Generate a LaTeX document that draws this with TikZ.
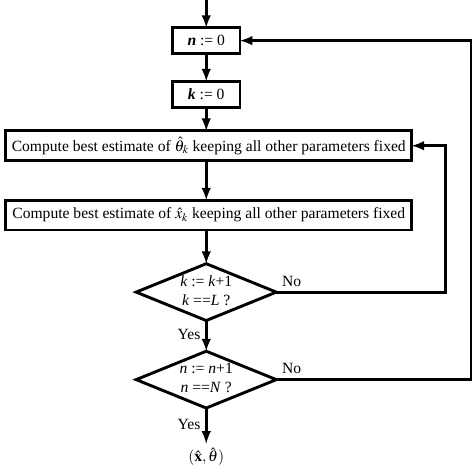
\documentclass[tikz,border=0pt]{standalone}
\usepackage{amsmath}
\usepackage{mathptmx}
\usepackage{fontspec}
\setmainfont{Liberation Serif}
\usetikzlibrary{matrix,shapes.geometric}
\newcommand{\twolines}[2]{\begin{tabular}{@{}c@{}}#1\\#2\end{tabular}}

\begin{document}
\begin{tikzpicture}[line width=2.2pt,every node/.style={font=\fontsize{11.8}{14.25}\selectfont}]
		\matrix [matrix of nodes,row sep=0pt,cells= {nodes= {rectangle,draw,outer sep=0pt,inner sep=0pt,minimum width=51pt,minimum height=19.5pt}}, row 3/.style= {nodes= {xshift=1.9pt,minimum width=307pt,minimum height=22.5pt}}, row 4/.style= {nodes= {xshift=1.9pt,minimum width=307pt,minimum height=22.5pt}}, row 5/.style= {nodes= {diamond,aspect=2.47,inner sep=-1.5pt,minimum width=106pt,minimum height=43pt}}, row 6/.style= {nodes= {diamond,aspect=2.47,inner sep=-1.5pt,minimum width=106pt,minimum height=43pt}}, row 7/.style= {nodes= {draw=none,minimum width=0pt,minimum height=0pt,inner sep=3pt}}] (m) {
			\textbf{\textit{n}} := 0\\[18.8pt]
			\textbf{\textit{k}} := 0\\[15.8pt]
			Compute best estimate of $\hat{\theta}_k$ keeping all other parameters fixed\\[27.8pt]
			Compute best estimate of $\hat{x}_k$ keeping all other parameters fixed\\[23.3pt]
			\twolines{\textit{k} := \textit{k}+1}{\textit{k} ==\textit{L} ?}\\[21pt]
			\twolines{\textit{n} := \textit{n}+1}{\textit{n} ==\textit{N} ?}\\[25.8pt]
			$(\hat{\mathbf{x}},\hat{\boldsymbol{\theta}})$\\
		};
		\useasboundingbox ([shift= {(-153.75pt,30.75pt)}]m-1-1.center) rectangle ([shift= {(201.75pt,-320.25pt)}]m-1-1.center);
		\coordinate (in) at ([yshift=21pt]m-1-1.north);
		\draw [-latex] (in) -- (m-1-1);
		\foreach \X in {1,...,6} {
			\ifnum\X>4
			\draw [-latex] (m-\X-1) -- (m-\the\numexpr\X+1\relax-1) node [pos=0.45,left] {Yes};
			\else
			\draw [-latex] (m-\X-1.south-|m-1-1) -- (m-\the\numexpr\X+1\relax-1.north-|m-1-1);
			\fi
		}
		\draw [-latex] (m-5-1.east) node [above right] {No} -| ([xshift=25.5pt]m-3-1.east) -- (m-3-1.east);
		\draw [-latex] (m-6-1.east) node [above right] {No} -| ([xshift=174.75pt]m-1-1.east) -- (m-1-1.east);
	\end{tikzpicture}
\end{document}
